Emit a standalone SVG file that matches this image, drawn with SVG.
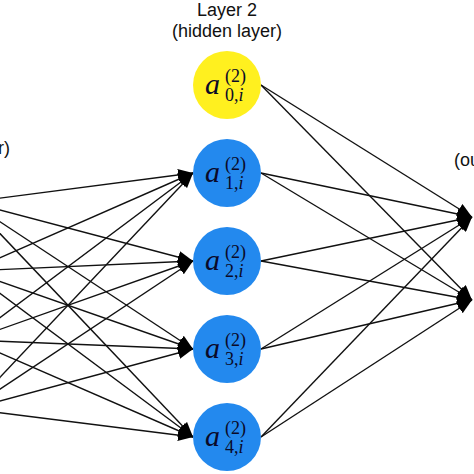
<svg xmlns="http://www.w3.org/2000/svg" width="474" height="474" viewBox="0 0 474 474">
<defs>
<marker id="arr" markerUnits="userSpaceOnUse" markerWidth="16" markerHeight="12" refX="15" refY="6" orient="auto">
<path d="M0,0 L15,6 L0,12 Z" fill="#000"/>
</marker>
<style>
.lbl{font-family:"Liberation Sans",Arial,sans-serif;font-size:18px;fill:#111}
.c line{stroke:#111;stroke-width:1.4;marker-end:url(#arr)}
.m{font-family:"Liberation Serif","DejaVu Serif",serif;fill:#0a0a28}
.a{font-style:italic;font-size:30px}
.s{font-size:18px}
.hid{fill:#2389EE}
</style>
</defs>
<rect width="474" height="474" fill="#fff"/>
<text class="lbl" x="227" y="16" text-anchor="middle">Layer 2</text>
<text class="lbl" x="227" y="37" text-anchor="middle">(hidden layer)</text>
<text class="lbl" x="10" y="154" text-anchor="end">r)</text>
<text class="lbl" x="454" y="166">(ou</text>
<g id="connectors" class="c">
<line x1="-30" y1="202" x2="193" y2="173"/>
<line x1="-30" y1="202" x2="193" y2="261"/>
<line x1="-30" y1="202" x2="193" y2="349"/>
<line x1="-30" y1="202" x2="193" y2="437"/>
<line x1="-30" y1="271" x2="193" y2="173"/>
<line x1="-30" y1="271" x2="193" y2="261"/>
<line x1="-30" y1="271" x2="193" y2="349"/>
<line x1="-30" y1="271" x2="193" y2="437"/>
<line x1="-30" y1="340" x2="193" y2="173"/>
<line x1="-30" y1="340" x2="193" y2="261"/>
<line x1="-30" y1="340" x2="193" y2="349"/>
<line x1="-30" y1="340" x2="193" y2="437"/>
<line x1="-30" y1="409" x2="193" y2="173"/>
<line x1="-30" y1="409" x2="193" y2="261"/>
<line x1="-30" y1="409" x2="193" y2="349"/>
<line x1="-30" y1="409" x2="193" y2="437"/>
<line x1="261" y1="85" x2="472" y2="217"/>
<line x1="261" y1="85" x2="472" y2="300"/>
<line x1="261" y1="173" x2="472" y2="217"/>
<line x1="261" y1="173" x2="472" y2="300"/>
<line x1="261" y1="261" x2="472" y2="217"/>
<line x1="261" y1="261" x2="472" y2="300"/>
<line x1="261" y1="349" x2="472" y2="217"/>
<line x1="261" y1="349" x2="472" y2="300"/>
<line x1="261" y1="437" x2="472" y2="217"/>
<line x1="261" y1="437" x2="472" y2="300"/>
</g>
<g id="a0">
<circle cx="227" cy="85" r="34" fill="#FFF01F"/>
<text class="m a" x="205" y="94">a</text><text class="m s" x="225" y="82">(2)</text><text class="m s" x="225" y="101">0,<tspan font-style="italic">i</tspan></text>
</g>
<g id="a1">
<circle class="hid" cx="227" cy="173" r="34"/>
<text class="m a" x="205" y="182">a</text><text class="m s" x="225" y="170">(2)</text><text class="m s" x="225" y="189">1,<tspan font-style="italic">i</tspan></text>
</g>
<g id="a2">
<circle class="hid" cx="227" cy="261" r="34"/>
<text class="m a" x="205" y="270">a</text><text class="m s" x="225" y="258">(2)</text><text class="m s" x="225" y="277">2,<tspan font-style="italic">i</tspan></text>
</g>
<g id="a3">
<circle class="hid" cx="227" cy="349" r="34"/>
<text class="m a" x="205" y="358">a</text><text class="m s" x="225" y="346">(2)</text><text class="m s" x="225" y="365">3,<tspan font-style="italic">i</tspan></text>
</g>
<g id="a4">
<circle class="hid" cx="227" cy="437" r="34"/>
<text class="m a" x="205" y="446">a</text><text class="m s" x="225" y="434">(2)</text><text class="m s" x="225" y="453">4,<tspan font-style="italic">i</tspan></text>
</g>
</svg>
